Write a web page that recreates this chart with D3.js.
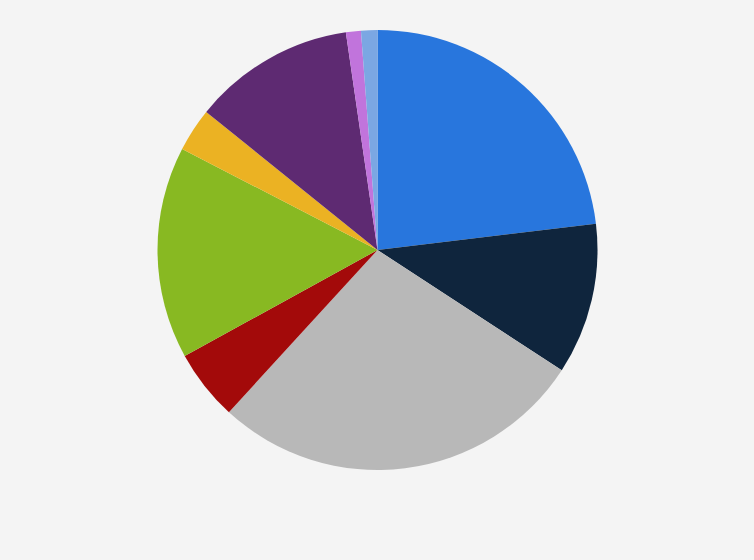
<!DOCTYPE html>
<html>
<head>
<meta charset="utf-8">
<script src="https://cdn.jsdelivr.net/npm/d3@7"></script>
<style>
html,body{margin:0;padding:0;background:#f4f4f4;}
svg{display:block;}
</style>
</head>
<body>
<svg id="chart" width="754" height="560"></svg>
<script>
const categories = ["A","B","C","D","E","F","G","H","I"];
const values = [23.1, 11.1, 27.6, 5.2, 15.6, 3.2, 11.9, 1.1, 1.2];
const colors = ["#2876dd","#0f253d","#b8b8b8","#a30a0a","#88b922","#ebb223","#5e2a72","#c174dc","#7ba7e3"];

const svg = d3.select("#chart");
const cx = 377.5, cy = 250, r = 220;
const g = svg.append("g").attr("transform", `translate(${cx},${cy})`);
const pie = d3.pie().sort(null).value(d => d.v);
const arc = d3.arc().innerRadius(0).outerRadius(r);
const data = categories.map((c, i) => ({c, v: values[i], col: colors[i]}));
g.selectAll("path").data(pie(data)).enter().append("path")
  .attr("d", arc)
  .attr("fill", d => d.data.col);
</script>
</body>
</html>
